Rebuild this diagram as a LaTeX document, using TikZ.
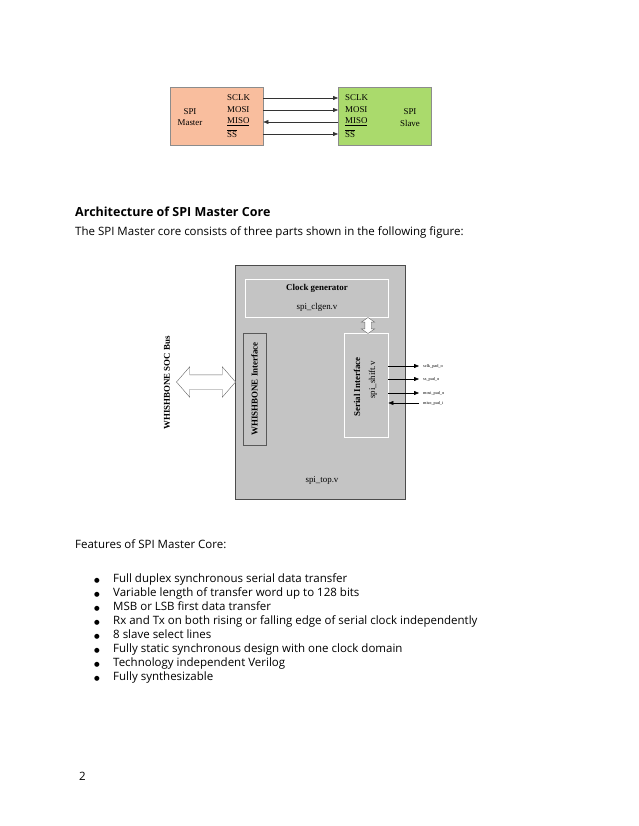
\documentclass[tikz,border=0pt]{standalone}
\usepackage{fontspec}
\setmainfont{Open Sans}
\newfontfamily\timesf{Liberation Serif}
\newfontfamily\dejavu{DejaVu Sans}
\usetikzlibrary{positioning,shapes.arrows,arrows.meta,calc}
\definecolor{peach}{RGB}{249,190,158}
\definecolor{lime}{RGB}{170,218,108}
\definecolor{coregray}{RGB}{196,196,196}
\tikzset{
  % page text
  body/.style    = {anchor=west, inner sep=0pt, text height=8.5pt, text depth=2.5pt,
                    font=\fontsize{11.5}{13}\selectfont},
  head/.style    = {anchor=west, inner sep=0pt, font=\fontsize{12.5}{15}\bfseries\selectfont},
  dot/.style     = {anchor=west, inner sep=0pt, text height=8.5pt, text depth=2.5pt,
                    font=\dejavu\fontsize{6.5}{8}\selectfont},
  % SPI master / slave blocks
  dev/.style     = {rectangle, draw=black!45, minimum width=93, minimum height=58, anchor=north west},
  pin/.style     = {inner sep=0pt, font=\timesf\fontsize{8.9}{9}\selectfont},
  % core blocks
  core/.style    = {rectangle, draw=black!70, thick, fill=coregray, anchor=north west},
  sub/.style     = {rectangle, draw=white, fill=coregray, anchor=north west},
  lbl/.style     = {inner sep=0pt, font=\timesf\fontsize{8.9}{9}\selectfont},
  blbl/.style    = {inner sep=0pt, font=\timesf\fontsize{8.9}{9}\bfseries\selectfont},
  pad/.style     = {anchor=west, inner sep=0pt, font=\timesf\fontsize{4.3}{5}\selectfont},
  % arrows
  sig/.style     = {-{Triangle[length=5pt,width=4pt]}, black!80},
  bus/.style     = {double arrow, draw=black!60, fill=white, inner sep=0pt},
}
\begin{document}
\begin{tikzpicture}[x=1pt, y=-1pt]
  \useasboundingbox[fill=white] (0,0) rectangle (638,826);

  % --- SPI master / slave ---
  \node[dev, fill=peach] (master) at (170,87) {};
  \node[dev, fill=lime]  (slave)  at (338,87) {};
  \node[pin] (mspi) at (190,112) {SPI};
  \node[pin] (mtxt) at (190,123) {Master};
  \node[pin, anchor=west] (msclk) at (227,98)  {SCLK};
  \node[pin, anchor=west] (mmosi) at (227,110) {MOSI};
  \node[pin, anchor=west] (mmiso) at (227,122) {\underline{MISO}};
  \node[pin, anchor=west] (mss)   at (227,134) {$\overline{\mbox{SS}}$};
  \node[pin, anchor=west] (ssclk) at (345,98)  {SCLK};
  \node[pin, anchor=west] (smosi) at (345,110) {MOSI};
  \node[pin, anchor=west] (smiso) at (345,122) {\underline{MISO}};
  \node[pin, anchor=west] (sss)   at (345,134) {$\overline{\mbox{SS}}$};
  \node[pin] (sspi) at (410,112) {SPI};
  \node[pin] (stxt) at (410,123) {Slave};

  \draw[sig] (master.east |- msclk) -- (slave.west |- msclk);
  \draw[sig] (master.east |- mmosi) -- (slave.west |- mmosi);
  \draw[sig] (slave.west |- mmiso) -- (master.east |- mmiso);
  \draw[sig] (master.east |- mss) -- (slave.west |- mss);

  % --- page text ---
  \node[head] (title) at (75,212) {Architecture of SPI Master Core};
  \node[body] (intro) at (75,233) {The SPI Master core consists of three parts shown in the following figure:};

  % --- SPI master core ---
  \node[core, minimum width=170, minimum height=234] (top) at (235,265) {};
  \node[sub, minimum width=143, minimum height=38] (clkgen) at (245,279) {};
  \node[blbl] (clkname) at (317,288) {Clock generator};
  \node[lbl]  (clkfile) at (317,307) {spi\_clgen.v};
  \node[sub, minimum width=44, minimum height=104] (shift) at (344,333) {};
  \node[blbl, rotate=90] (shiftname) at (357,387) {Serial Interface};
  \node[lbl, rotate=90]  (shiftfile) at (373,380) {spi\_shift.v};
  \node[core, thin, draw=black!65, minimum width=23, minimum height=112] (wb) at (243,333) {};
  \node[blbl, rotate=90] (wbname) at (254.5,389) {WHISHBONE Interface};
  \node[lbl] (topfile) at (322,480) {spi\_top.v};

  % bus arrows
  \node[bus, minimum height=59, minimum width=30, inner ysep=7,
        double arrow head extend=8, double arrow tip angle=98] (wbbus) at (206,382) {};
  \node[blbl, rotate=90] (busname) at (167,383) {WHISHBONE SOC Bus};
  \node[bus, rotate=90, minimum height=16, minimum width=13, inner ysep=3,
        double arrow head extend=3.5, double arrow tip angle=110] (clkbus) at (368,325.5) {};

  % pads
  \node[pad] (sclk) at (423,366) {sclk\_pad\_o};
  \node[pad] (ss)   at (423,379) {ss\_pad\_o};
  \node[pad] (mosi) at (423,393) {mosi\_pad\_o};
  \node[pad] (miso) at (423,403) {miso\_pad\_i};
  \foreach \p in {sclk, ss, mosi} {
    \draw[sig, black] (shift.east |- \p) -- ([xshift=-4pt]\p.west);
  }
  \draw[sig, black] ([xshift=-4pt]miso.west) -- (shift.east |- miso);

  % --- features ---
  \node[body] (feat) at (75,545) {Features of SPI Master Core:};
  \foreach \t [count=\i] in {Full duplex synchronous serial data transfer,
      Variable length of transfer word up to 128 bits,
      MSB or LSB first data transfer,
      Rx and Tx on both rising or falling edge of serial clock independently,
      8 slave select lines,
      Fully static synchronous design with one clock domain,
      Technology independent Verilog,
      Fully synthesizable} {
    \node[body] (f\i) at (113,565+14*\i) {\t};
    \node[dot]  (b\i) at (94,565+14*\i) {●};
  }

  \node[body] (page) at (79,777) {2};
\end{tikzpicture}
\end{document}
